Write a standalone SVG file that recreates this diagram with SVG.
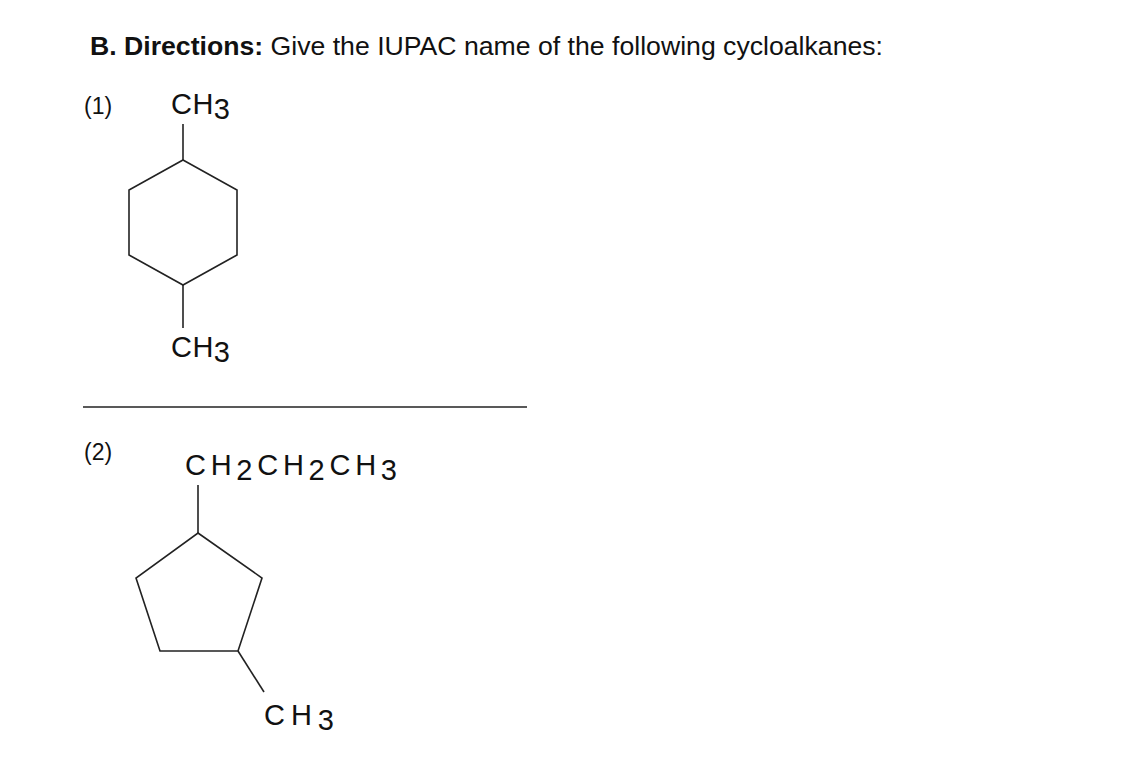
<svg xmlns="http://www.w3.org/2000/svg" width="1121" height="781" viewBox="0 0 1121 781">
<style>
.t{font-family:"Liberation Sans",Arial,sans-serif;fill:#111}
.b{stroke:#222;stroke-width:1.6;fill:none}
.c{font-family:"Liberation Sans",Arial,sans-serif;font-size:29px;fill:#111}
</style>
<rect width="1121" height="781" fill="#fff"/>
<text class="t" x="90" y="55" font-size="25" textLength="793" lengthAdjust="spacingAndGlyphs"><tspan font-weight="bold">B. Directions:</tspan> Give the IUPAC name of the following cycloalkanes:</text>
<text class="t" x="84" y="114" font-size="23">(1)</text>
<text class="t" x="84" y="460" font-size="23">(2)</text>
<g id="mol1">
<polygon class="b" points="183,160 237,190 237,255 183,285 129,255 129,190"/>
<line class="b" x1="183" y1="160" x2="183" y2="124"/>
<line class="b" x1="183" y1="285" x2="183" y2="328"/>
<text class="c" x="171" y="114" textLength="59">CH<tspan dy="5">3</tspan></text>
<text class="c" x="171" y="357" textLength="59">CH<tspan dy="5">3</tspan></text>
</g>
<line x1="83" y1="407" x2="527" y2="407" stroke="#222" stroke-width="1.6"/>
<g id="mol2">
<polygon class="b" points="198,533 262,578 238,651 160,651 136,578"/>
<line class="b" x1="198" y1="533" x2="198" y2="485"/>
<line class="b" x1="238" y1="651" x2="264" y2="692"/>
<text class="c" x="185" y="475" textLength="212">CH<tspan dy="5">2</tspan><tspan dy="-5">CH</tspan><tspan dy="5">2</tspan><tspan dy="-5">CH</tspan><tspan dy="5">3</tspan></text>
<text class="c" x="264" y="725" textLength="70">CH<tspan dy="5">3</tspan></text>
</g>
</svg>
